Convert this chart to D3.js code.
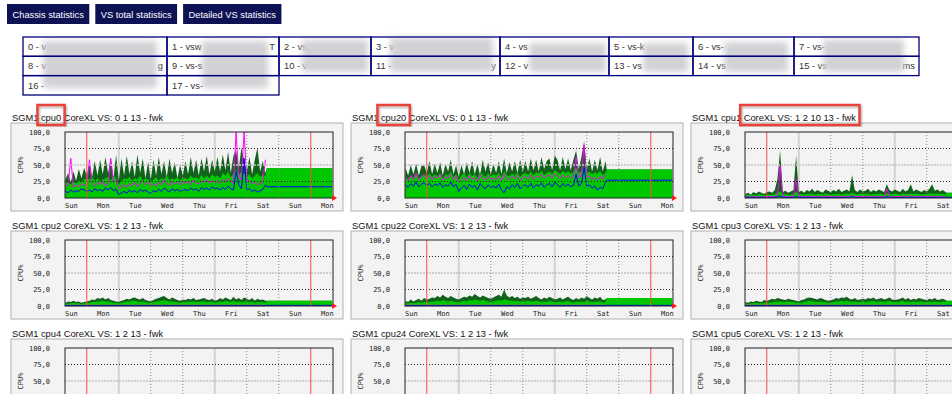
<!DOCTYPE html>
<html>
<head>
<meta charset="utf-8">
<script src="https://cdn.jsdelivr.net/npm/d3@7"></script>
<style>
  body { margin: 0; background: #fff; }
  svg { display: block; font-family: "Liberation Sans", Arial, sans-serif; }
  .tick text { font-family: "DejaVu Sans Mono", monospace; font-size: 7px; fill: #222; }
</style>
</head>
<body>
<div id="page"></div>
<script>
// ---- data ----
var navButtons = ["Chassis statistics", "VS total statistics", "Detailed VS statistics"];

// VS list (names are blurred in the original, only the visible start is kept)
var vsCells = ["0 - v", "1 - vsw", "2 - vs", "3 - v", "4 - vs", "5 - vs-k", "6 - vs-", "7 - vs-",
               "8 - v", "9 - vs-s", "10 - v", "11 - ", "12 - v", "13 - vs", "14 - vs", "15 - vs",
               "16 - ", "17 - vs-"];
var vsTails = { 1: "T", 8: "g", 11: "y", 15: "ms" };

var yTicks = [0, 25, 50, 75, 100];
var dayNames = ["Sun", "Mon", "Tue", "Wed", "Thu", "Fri", "Sat", "Sun", "Mon"];

// samples every 2h, Sun 08:00 -> Sat 14:00 (76 points)
var sampleStart = new Date(2021, 0, 3, 8);
var stepHours = 2;
// flat part after the last sample
var tailStart = new Date(2021, 0, 9, 15);
var tailEnd = new Date(2021, 0, 11, 16);

var cpu0Max = [28,38,24,40,26,44,30,46,34,
  52,32,56,34,58,36,62,38,60,30,65,26,
  60,34,64,36,56,32,66,38,60,30,55,28,
  58,34,62,36,56,32,60,38,54,30,50,34,
  56,36,62,38,58,34,60,40,64,36,58,40,
  62,40,66,42,70,38,64,72,44,76,58,40,
  62,36,58,76,40,56,38];
var cpu0Avg = [22,24,20,25,22,26,24,28,30,
  28,32,26,30,25,28,30,32,26,34,30,20,
  26,30,28,32,26,30,28,34,26,30,28,24,
  28,32,26,30,28,34,27,30,28,32,26,30,
  30,28,34,30,32,28,35,30,34,30,36,32,
  34,30,38,34,40,32,36,42,34,40,36,32,
  36,30,34,38,32,35,33];
var cpu0Pink = [18,20,60,16,20,17,22,19,22,
  58,22,18,24,20,26,18,22,60,24,28,14,
  18,20,16,22,18,24,17,22,26,20,24,19,
  22,18,24,20,28,22,19,25,21,24,20,26,
  22,25,20,27,23,21,26,24,28,22,26,24,
  26,22,28,24,30,26,22,100,30,28,100,26,
  26,22,24,20,22,24,58];
var cpu0Blue = [10,8,12,9,11,10,14,12,10,
  12,9,14,11,13,10,15,12,16,11,13,5,
  8,10,7,12,9,11,8,13,10,12,9,7,
  11,9,13,10,15,12,9,14,11,13,10,12,
  13,11,15,12,14,10,16,13,15,12,17,14,
  15,12,16,13,18,14,12,40,20,14,60,12,
  14,10,12,9,11,13,20];

var cpu20Max = [46,34,50,36,52,34,48,50,38,
  56,36,52,38,54,34,52,40,58,36,50,32,
  50,36,54,38,56,36,52,34,58,40,54,36,
  52,38,56,36,60,38,54,40,56,38,58,40,
  56,40,60,42,58,40,62,44,56,60,42,64,
  58,42,62,44,60,42,58,72,44,62,86,44,
  60,40,58,42,62,40,56];
var cpu20Avg = [32,28,35,30,36,29,33,36,32,
  38,32,36,33,38,30,36,34,40,32,36,28,
  34,38,31,38,33,36,30,40,35,32,37,33,
  36,34,38,32,40,35,33,37,34,39,32,36,
  38,35,40,34,39,37,41,35,38,40,36,42,
  39,36,41,38,40,37,39,46,38,41,48,38,
  40,36,39,37,41,35,38];
var cpu20Pink = [30,26,34,28,38,27,32,35,30,
  34,28,33,30,36,27,32,30,36,28,33,24,
  28,32,26,34,28,31,25,36,30,27,33,29,
  30,28,34,26,36,30,28,33,29,35,27,31,
  32,29,35,28,33,31,36,30,33,35,30,37,
  33,29,35,31,34,30,32,62,30,34,80,31,
  33,28,31,27,33,28,36];
var cpu20Blue = [20,16,22,18,24,17,21,23,19,
  22,17,21,19,23,16,20,18,24,17,21,10,
  15,19,13,21,16,19,12,22,17,14,20,16,
  18,15,21,12,8,17,14,20,16,22,14,18,
  20,16,22,15,20,18,23,16,20,22,17,24,
  20,16,22,18,21,17,19,36,18,22,46,17,
  20,15,18,12,16,14,24];

var cpu1Max = [6,8,5,9,7,10,8,6,9,
  10,8,12,29,72,9,11,8,10,12,64,9,
  11,8,12,10,14,9,12,10,8,13,11,9,
  12,10,14,9,11,13,10,35,12,9,13,10,
  11,14,9,12,10,13,11,9,21,12,10,13,
  11,9,14,10,12,21,10,13,11,9,12,10,
  14,21,11,13,10,12,9];
var cpu1Avg = [4,5,4,5,4,6,5,4,5,
  5,5,6,8,10,5,6,5,5,6,9,5,
  6,5,6,6,7,5,6,6,5,7,6,5,
  6,6,7,5,6,7,6,8,6,5,7,6,
  6,7,5,6,6,7,6,5,7,6,6,7,
  6,5,7,6,6,7,6,7,6,5,6,6,
  7,7,6,7,6,6,5];
var cpu1Pink = [2,2,1,2,2,2,1,2,2,
  2,2,2,4,50,2,2,2,2,3,29,2,
  2,2,2,2,3,2,2,2,2,3,2,2,
  2,2,3,2,2,2,2,4,2,2,2,2,
  2,3,2,2,2,2,2,2,14,2,2,2,
  2,2,3,2,2,4,2,2,2,2,2,2,
  2,3,2,2,2,2,2];
var cpu1Blue = [1,1,1,1,1,1,1,1,1,
  1,1,1,2,3,1,1,1,1,1,2,1,
  1,1,1,1,1,1,1,1,1,1,1,1,
  1,1,1,1,1,1,1,2,1,1,1,1,
  1,1,1,1,1,1,1,1,2,1,1,1,
  1,1,1,1,1,1,1,1,1,1,1,1,
  1,1,1,1,1,1,1];

var cpu2Max = [5,7,6,8,6,7,5,6,7,
  8,10,9,12,11,13,10,12,9,8,7,6,
  8,9,11,10,12,13,11,10,12,9,8,7,
  9,11,12,14,15,12,10,13,11,9,8,10,
  9,11,10,12,9,10,11,12,10,9,11,8,
  9,12,10,13,11,9,14,10,12,9,13,11,
  9,12,8,11,9,10,8];
var cpu2Avg = [3,4,4,5,4,4,3,4,5,
  5,6,6,7,7,8,7,7,6,5,5,4,
  5,6,7,7,8,8,7,6,7,6,5,5,
  6,7,7,8,9,8,7,7,6,6,5,6,
  6,7,6,7,6,6,7,7,6,6,7,5,
  6,7,6,8,7,6,8,6,7,6,7,7,
  6,7,5,6,6,6,5];

var cpu22Max = [8,6,10,7,9,11,8,12,10,
  11,13,12,15,13,17,14,12,15,13,11,10,
  12,14,13,16,14,18,15,13,16,14,12,11,
  13,15,17,14,25,16,13,15,12,14,11,13,
  12,14,11,13,15,12,10,13,11,14,12,10,
  11,13,10,12,14,11,9,12,10,13,11,15,
  12,10,13,11,14,9,10];
var cpu22Avg = [4,4,5,4,5,6,5,6,6,
  6,7,7,8,7,9,8,7,8,7,6,6,
  7,8,7,9,8,10,9,8,9,8,7,6,
  7,8,9,8,10,9,8,8,7,8,7,7,
  7,8,7,7,8,7,6,7,6,8,7,6,
  6,7,6,7,8,6,5,7,6,7,6,8,
  7,6,7,6,8,5,6];

var cpu3Max = [6,5,7,6,8,7,6,9,8,
  9,11,10,12,11,10,9,11,10,9,8,7,
  9,10,12,13,12,11,10,12,11,9,8,9,
  10,12,11,13,12,14,11,10,12,9,10,11,
  10,12,11,13,10,11,12,10,11,13,10,9,
  10,11,13,10,12,9,11,10,12,11,10,9,
  11,10,12,9,10,11,9];
var cpu3Avg = [4,3,4,4,5,4,4,5,5,
  5,6,6,7,7,6,6,7,6,6,5,5,
  5,6,7,8,7,7,6,7,6,6,5,5,
  6,7,7,8,7,8,7,6,7,6,6,7,
  6,7,7,8,6,7,7,6,7,8,6,6,
  6,7,8,6,7,6,7,6,7,7,6,6,
  7,6,7,6,6,7,6];

// quiet cpus: flat pink / blue near zero
var quietPink = [1,1,1,1,1,1,1,1,1,1,1,1,1,1,1,1,1,1,1,1,1,1,1,1,1,1,1,1,1,1,1,1,1,1,1,1,1,1,
  1,1,1,1,1,1,1,1,1,1,1,1,1,1,1,1,1,1,1,1,1,1,1,1,1,1,1,1,1,1,1,1,1,1,1,1,1,1];
var quietBlue = [0.5,0.5,0.5,0.5,0.5,0.5,0.5,0.5,0.5,0.5,0.5,0.5,0.5,0.5,0.5,0.5,0.5,0.5,0.5,
  0.5,0.5,0.5,0.5,0.5,0.5,0.5,0.5,0.5,0.5,0.5,0.5,0.5,0.5,0.5,0.5,0.5,0.5,0.5,
  0.5,0.5,0.5,0.5,0.5,0.5,0.5,0.5,0.5,0.5,0.5,0.5,0.5,0.5,0.5,0.5,0.5,0.5,0.5,
  0.5,0.5,0.5,0.5,0.5,0.5,0.5,0.5,0.5,0.5,0.5,0.5,0.5,0.5,0.5,0.5,0.5,0.5,0.5];

var charts = [
  { title: "SGM1 cpu0 CoreXL VS: 0 1 13 - fwk", hl: "cpu0", max: cpu0Max, avg: cpu0Avg, pink: cpu0Pink, blue: cpu0Blue, tailGreen: 45, tailBlue: 17 },
  { title: "SGM1 cpu20 CoreXL VS: 0 1 13 - fwk", hl: "cpu20", max: cpu20Max, avg: cpu20Avg, pink: cpu20Pink, blue: cpu20Blue, tailGreen: 43, tailBlue: 27 },
  { title: "SGM1 cpu1 CoreXL VS: 1 2 10 13 - fwk", hl: "CoreXL VS: 1 2 10 13 - fwk", max: cpu1Max, avg: cpu1Avg, pink: cpu1Pink, blue: cpu1Blue, tailGreen: 8, tailBlue: 1 },
  { title: "SGM1 cpu2 CoreXL VS: 1 2 13 - fwk", max: cpu2Max, avg: cpu2Avg, pink: quietPink, blue: quietBlue, tailGreen: 8, tailBlue: 1 },
  { title: "SGM1 cpu22 CoreXL VS: 1 2 13 - fwk", max: cpu22Max, avg: cpu22Avg, pink: quietPink, blue: quietBlue, tailGreen: 12, tailBlue: 1 },
  { title: "SGM1 cpu3 CoreXL VS: 1 2 13 - fwk", max: cpu3Max, avg: cpu3Avg, pink: quietPink, blue: quietBlue, tailGreen: 8, tailBlue: 1 },
  { title: "SGM1 cpu4 CoreXL VS: 1 2 13 - fwk" },
  { title: "SGM1 cpu24 CoreXL VS: 1 2 13 - fwk" },
  { title: "SGM1 cpu5 CoreXL VS: 1 2 13 - fwk" }
];

// ---- layout ----
var W = 952, H = 394;
var plotW = 268, plotH = 66;
var colLeft = [65, 405, 745];
var rowTop = [132, 240, 348];
var viewStart = new Date(2021, 0, 3, 7, 40);
var viewEnd = new Date(2021, 0, 11, 16, 40);

var svg = d3.select("#page").append("svg")
  .attr("width", W)
  .attr("height", H);

var defs = svg.append("defs");
defs.append("filter").attr("id", "blur")
  .attr("x", "-20%").attr("y", "-30%").attr("width", "140%").attr("height", "160%")
  .append("feGaussianBlur").attr("stdDeviation", 3);
defs.append("filter").attr("id", "shadow")
  .append("feDropShadow").attr("dx", 1).attr("dy", 1.5).attr("stdDeviation", 1.2)
  .attr("flood-color", "#000").attr("flood-opacity", 0.35);

//Buttons
var bx = 7;
navButtons.forEach(function (label) {
  var b = svg.append("g");
  var rect = b.append("rect").attr("x", bx).attr("y", 4).attr("height", 20).attr("fill", "#0d1254");
  var t = b.append("text")
    .attr("y", 17.5)
    .attr("font-size", 9.3)
    .attr("fill", "#fff")
    .text(label);
  var tw = t.node().getComputedTextLength();
  var bw = tw + 11;
  rect.attr("width", bw);
  t.attr("x", bx + bw / 2).attr("text-anchor", "middle");
  bx += bw + 6;
});

//VS table
var colEdges = [23, 167, 279, 371, 500, 609, 693, 794, 919];
var rowEdges = [37, 56.3, 75.6, 95];
var blurs = [
  [43, 157, 41, 88], [202, 268, 41, 88], [302, 368, 40, 72], [390, 493, 38, 72],
  [529, 606, 43, 72], [643, 688, 43, 72], [724, 788, 42, 72], [823, 904, 40, 72]
];

var table = svg.append("g");
vsCells.forEach(function (label, i) {
  var r = Math.floor(i / 8), c = i % 8;
  table.append("text")
    .attr("x", colEdges[c] + 5)
    .attr("y", rowEdges[r] + 13)
    .attr("font-size", 9.3)
    .attr("fill", "#333")
    .text(label);
  if (vsTails[i]) {
    table.append("text")
      .attr("x", colEdges[c + 1] - 4)
      .attr("y", rowEdges[r] + 13)
      .attr("text-anchor", "end")
      .attr("font-size", 9.3)
      .attr("fill", "#333")
      .text(vsTails[i]);
  }
});
table.selectAll("rect.blur")
  .data(blurs)
  .enter().append("rect")
  .attr("class", "blur")
  .attr("x", function (d) { return d[0]; })
  .attr("y", function (d) { return d[2]; })
  .attr("width", function (d) { return d[1] - d[0]; })
  .attr("height", function (d) { return d[3] - d[2]; })
  .attr("fill", "#d2d2d6")
  .attr("filter", "url(#blur)");
vsCells.forEach(function (label, i) {
  var r = Math.floor(i / 8), c = i % 8;
  table.append("rect")
    .attr("x", colEdges[c])
    .attr("y", rowEdges[r])
    .attr("width", colEdges[c + 1] - colEdges[c])
    .attr("height", rowEdges[r + 1] - rowEdges[r])
    .attr("fill", "none")
    .attr("stroke", "#00007a")
    .attr("stroke-width", 1.3);
});

//Charts
var dayNoons = dayNames.map(function (d, i) { return new Date(2021, 0, 3 + i, 12); });
var midnights = d3.timeDay.range(new Date(2021, 0, 4), new Date(2021, 0, 12));
var vKinds = ["red", "solid", "dot", "dot", "solid", "dot", "dot", "red"];

function sampleTime(i) { return d3.timeHour.offset(sampleStart, i * stepHours); }

function drawChart(c, k) {
  var left = colLeft[k % 3], top = rowTop[Math.floor(k / 3)];
  var bottom = top + plotH, right = left + plotW;
  var g = svg.append("g");

  var x = d3.scaleTime().domain([viewStart, viewEnd]).range([left, right]);
  var y = d3.scaleLinear().domain([0, 100]).range([bottom, top]);

  // panel
  g.append("rect")
    .attr("x", left - 54).attr("y", top - 9)
    .attr("width", 332).attr("height", 88)
    .attr("fill", "#f3f3f3")
    .attr("stroke", "#b0b0b0");

  // title
  var title = g.append("text")
    .attr("x", left - 53)
    .attr("y", top - 11)
    .attr("font-size", 9.3)
    .attr("fill", "#111")
    .text(c.title);

  // light solid day lines (under data)
  g.selectAll("line.vs")
    .data(midnights.filter(function (d, i) { return vKinds[i] === "solid"; }))
    .enter().append("line")
    .attr("x1", function (d) { return x(d); }).attr("x2", function (d) { return x(d); })
    .attr("y1", top).attr("y2", bottom)
    .attr("stroke", "#d2d2d2").attr("stroke-width", 2);

  if (c.max) {
    var main = c.max.map(function (v, i) {
      return { t: sampleTime(i), max: v, avg: c.avg[i], pink: c.pink[i], blue: c.blue[i] };
    });
    var full = main.concat([
      { t: tailStart, max: c.tailGreen, avg: c.tailGreen, blue: c.tailBlue },
      { t: tailEnd, max: c.tailGreen, avg: c.tailGreen, blue: c.tailBlue }
    ]);

    g.append("path").datum(full)
      .attr("fill", "#11621a")
      .attr("d", d3.area().x(function (d) { return x(d.t); }).y0(bottom).y1(function (d) { return y(d.max); }));
    g.append("path").datum(full)
      .attr("fill", "#00c800")
      .attr("d", d3.area().x(function (d) { return x(d.t); }).y0(bottom).y1(function (d) { return y(d.avg); }));
    g.append("path").datum(main)
      .attr("fill", "none").attr("stroke", "#ff00ff").attr("stroke-width", 1)
      .attr("d", d3.line().x(function (d) { return x(d.t); }).y(function (d) { return y(d.pink); }));
    g.append("path").datum(full)
      .attr("fill", "none").attr("stroke", "#0000ff").attr("stroke-width", 1)
      .attr("d", d3.line().x(function (d) { return x(d.t); }).y(function (d) { return y(d.blue); }));
  }

  // horizontal grid on top
  g.selectAll("line.h")
    .data([25, 50, 75])
    .enter().append("line")
    .attr("x1", left).attr("x2", right)
    .attr("y1", function (d) { return y(d); }).attr("y2", function (d) { return y(d); })
    .attr("stroke", function (d) { return d === 50 ? "#c4c4c4" : "#222"; })
    .attr("stroke-width", function (d) { return d === 50 ? 1.6 : 1; })
    .attr("stroke-dasharray", function (d) { return d === 50 ? "2,1" : "1,2"; });

  // dotted and red day lines
  g.selectAll("line.vd")
    .data(midnights.filter(function (d, i) { return vKinds[i] !== "solid"; }))
    .enter().append("line")
    .attr("x1", function (d) { return x(d); }).attr("x2", function (d) { return x(d); })
    .attr("y1", top).attr("y2", bottom)
    .attr("stroke", function (d) { return d.getDay() === 1 ? "#ff4b4b" : "#8a8a8a"; })
    .attr("stroke-dasharray", function (d) { return d.getDay() === 1 ? null : "1,2"; });

  // frame
  g.append("rect")
    .attr("x", left).attr("y", top)
    .attr("width", plotW).attr("height", plotH)
    .attr("fill", "none").attr("stroke", "#222");
  g.append("path")
    .attr("d", "M" + (right - 1) + "," + (bottom - 3) + "L" + (right + 4) + "," + bottom + "L" + (right - 1) + "," + (bottom + 3) + "Z")
    .attr("fill", "#ff1a1a");

  // axes
  var ya = g.append("g").call(d3.axisLeft(y).tickValues(yTicks).tickSize(0).tickPadding(15)
    .tickFormat(function (d) { return d3.format(".1f")(d).replace(".", ","); }));
  ya.attr("transform", "translate(" + left + ",0)");
  ya.select(".domain").remove();
  var xa = g.append("g").call(d3.axisBottom(x).tickValues(dayNoons).tickSize(0).tickPadding(5)
    .tickFormat(function (d, i) { return dayNames[i]; }));
  xa.attr("transform", "translate(0," + bottom + ")");
  xa.select(".domain").remove();

  g.append("text")
    .attr("transform", "translate(" + (left - 42) + "," + (top + 33) + ") rotate(-90)")
    .attr("text-anchor", "middle")
    .attr("font-family", "DejaVu Sans Mono, monospace")
    .attr("font-size", 7)
    .attr("fill", "#222")
    .text("CPU%");

  // red highlight box
  if (c.hl) {
    var idx = c.title.indexOf(c.hl);
    var node = title.node();
    var x0 = left - 53 + node.getSubStringLength(0, idx);
    var w = node.getSubStringLength(idx, c.hl.length);
    g.append("rect")
      .attr("x", x0 - 3.5).attr("y", top - 27)
      .attr("width", w + 7).attr("height", 20)
      .attr("fill", "none")
      .attr("stroke", "#e8433c").attr("stroke-width", 2.5)
      .attr("filter", "url(#shadow)");
  }
}

charts.forEach(drawChart);
</script>
</body>
</html>
